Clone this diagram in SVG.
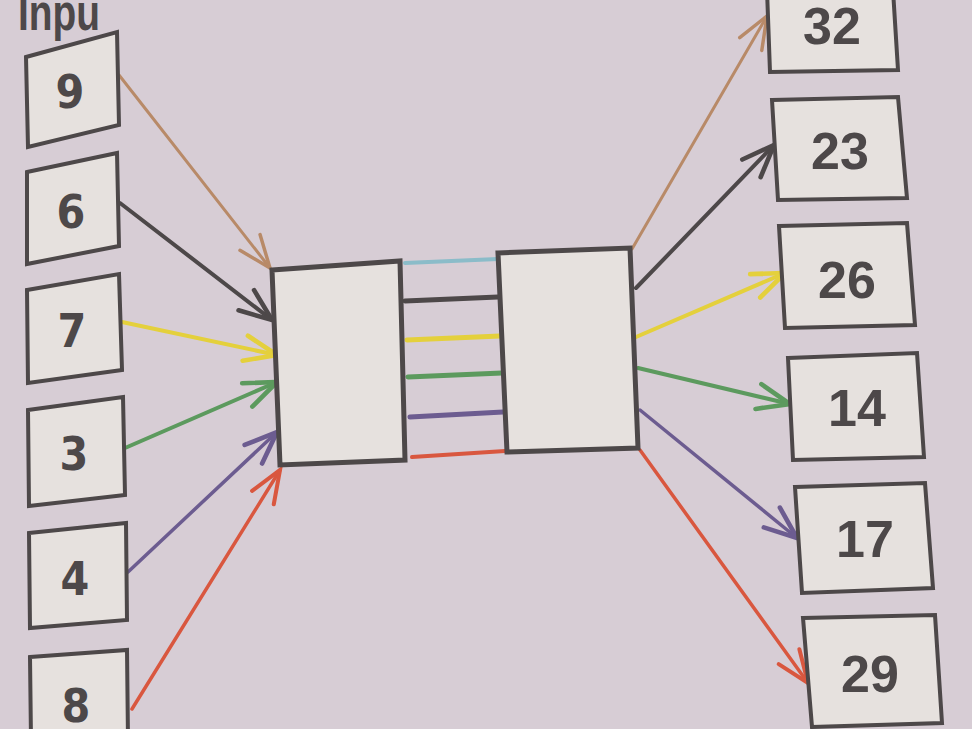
<svg xmlns="http://www.w3.org/2000/svg" width="972" height="729" viewBox="0 0 972 729">
<style>
.bg{fill:#d7cdd5}
.box{fill:#e6e1de;stroke:#4d4849;stroke-width:4;stroke-linejoin:miter}
.mid{fill:#e6e1de;stroke:#4d4849;stroke-width:5}
.num{font-family:"Liberation Sans",Arial,sans-serif;font-weight:bold;fill:#4d4849;text-anchor:middle}
.lnum{font-size:46px;font-weight:600;font-family:"DejaVu Sans Condensed","DejaVu Sans",sans-serif}
.rnum{font-size:52px}
.c{fill:none;stroke-linecap:round}
</style>
<defs>
<marker id="aBrown" markerUnits="userSpaceOnUse" markerWidth="44" markerHeight="44" viewBox="-34 -17 38 34" refX="0" refY="0" orient="auto"><path d="M-28,-11 L0,0 L-28,11" fill="none" stroke="#b88a68" stroke-width="3" stroke-linecap="round"/></marker>
<marker id="aDark" markerUnits="userSpaceOnUse" markerWidth="44" markerHeight="44" viewBox="-34 -17 38 34" refX="0" refY="0" orient="auto"><path d="M-28,-11 L0,0 L-28,11" fill="none" stroke="#4d4849" stroke-width="4" stroke-linecap="round"/></marker>
<marker id="aYellow" markerUnits="userSpaceOnUse" markerWidth="44" markerHeight="44" viewBox="-34 -17 38 34" refX="0" refY="0" orient="auto"><path d="M-28,-11 L0,0 L-28,11" fill="none" stroke="#e4d03c" stroke-width="4" stroke-linecap="round"/></marker>
<marker id="aGreen" markerUnits="userSpaceOnUse" markerWidth="44" markerHeight="44" viewBox="-34 -17 38 34" refX="0" refY="0" orient="auto"><path d="M-28,-11 L0,0 L-28,11" fill="none" stroke="#5c9a5e" stroke-width="4" stroke-linecap="round"/></marker>
<marker id="aPurple" markerUnits="userSpaceOnUse" markerWidth="44" markerHeight="44" viewBox="-34 -17 38 34" refX="0" refY="0" orient="auto"><path d="M-28,-11 L0,0 L-28,11" fill="none" stroke="#6c5c90" stroke-width="4" stroke-linecap="round"/></marker>
<marker id="aRed" markerUnits="userSpaceOnUse" markerWidth="44" markerHeight="44" viewBox="-34 -17 38 34" refX="0" refY="0" orient="auto"><path d="M-28,-11 L0,0 L-28,11" fill="none" stroke="#d9573f" stroke-width="3.5" stroke-linecap="round"/></marker>
</defs>
<rect class="bg" x="0" y="0" width="972" height="729"/>
<text x="18" y="30" font-family="Liberation Sans,Arial,sans-serif" font-weight="bold" font-size="52" fill="#4d4849" textLength="82" lengthAdjust="spacingAndGlyphs">Inpu</text>

<g id="connectors">
<g class="c">
<line x1="119" y1="75" x2="270" y2="268" stroke="#b88a68" stroke-width="3" marker-end="url(#aBrown)"/>
<line x1="120" y1="203" x2="272" y2="320" stroke="#4d4849" stroke-width="4" marker-end="url(#aDark)"/>
<line x1="122" y1="322" x2="277" y2="355" stroke="#e4d03c" stroke-width="4" marker-end="url(#aYellow)"/>
<line x1="125" y1="448" x2="277" y2="382" stroke="#5c9a5e" stroke-width="4" marker-end="url(#aGreen)"/>
<line x1="128" y1="572" x2="277" y2="432" stroke="#6c5c90" stroke-width="3.5" marker-end="url(#aPurple)"/>
<line x1="132" y1="709" x2="280" y2="470" stroke="#d9573f" stroke-width="3.5" marker-end="url(#aRed)"/>

<line x1="405" y1="263" x2="498" y2="259" stroke="#8bbcc9" stroke-width="4"/>
<line x1="405" y1="301" x2="498" y2="297" stroke="#4d4849" stroke-width="5"/>
<line x1="407" y1="340" x2="500" y2="336" stroke="#e4d03c" stroke-width="5"/>
<line x1="408" y1="377" x2="502" y2="373" stroke="#5c9a5e" stroke-width="5"/>
<line x1="410" y1="417" x2="503" y2="412" stroke="#6c5c90" stroke-width="5"/>
<line x1="412" y1="457" x2="505" y2="451" stroke="#d9573f" stroke-width="4"/>

<line x1="632" y1="249" x2="767" y2="16" stroke="#b88a68" stroke-width="3" marker-end="url(#aBrown)"/>
<line x1="636" y1="288" x2="774" y2="145" stroke="#4d4849" stroke-width="4" marker-end="url(#aDark)"/>
<line x1="636" y1="337" x2="785" y2="273" stroke="#e4d03c" stroke-width="4" marker-end="url(#aYellow)"/>
<line x1="638" y1="368" x2="790" y2="404" stroke="#5c9a5e" stroke-width="4" marker-end="url(#aGreen)"/>
<line x1="640" y1="410" x2="797" y2="538" stroke="#6c5c90" stroke-width="3.5" marker-end="url(#aPurple)"/>
<line x1="640" y1="450" x2="808" y2="683" stroke="#d9573f" stroke-width="3.5" marker-end="url(#aRed)"/>
</g>
</g>

<g id="in9"><polygon class="box" points="26,57 117,32 119,125 28,147"/><text class="num lnum" x="70" y="108">9</text></g>
<g id="in6"><polygon class="box" points="27,172 117,153 119,246 27,264"/><text class="num lnum" x="71" y="228">6</text></g>
<g id="in7"><polygon class="box" points="27,290 119,274 122,370 28,383"/><text class="num lnum" x="72" y="347">7</text></g>
<g id="in3"><polygon class="box" points="28,410 123,397 125,495 29,506"/><text class="num lnum" x="74" y="470">3</text></g>
<g id="in4"><polygon class="box" points="29,533 126,523 127,620 30,628"/><text class="num lnum" x="75" y="595">4</text></g>
<g id="in8"><polygon class="box" points="30,657 127,650 128,740 31,740"/><text class="num lnum" x="76" y="722">8</text></g>

<g id="mid1"><polygon class="mid" points="272,270 400,261 405,460 280,465"/></g>
<g id="mid2"><polygon class="mid" points="498,253 630,248 638,448 507,452"/></g>

<g id="out32"><polygon class="box" points="767,-10 893,-10 898,70 770,72"/><text class="num rnum" x="832" y="44">32</text></g>
<g id="out23"><polygon class="box" points="772,100 898,97 907,198 778,200"/><text class="num rnum" x="840" y="169">23</text></g>
<g id="out26"><polygon class="box" points="779,226 907,223 915,325 785,328"/><text class="num rnum" x="847" y="298">26</text></g>
<g id="out14"><polygon class="box" points="788,358 917,353 924,457 793,460"/><text class="num rnum" x="857" y="426">14</text></g>
<g id="out17"><polygon class="box" points="795,487 925,483 933,588 802,593"/><text class="num rnum" x="865" y="557">17</text></g>
<g id="out29"><polygon class="box" points="803,618 935,615 942,723 812,727"/><text class="num rnum" x="870" y="692">29</text></g>
</svg>
